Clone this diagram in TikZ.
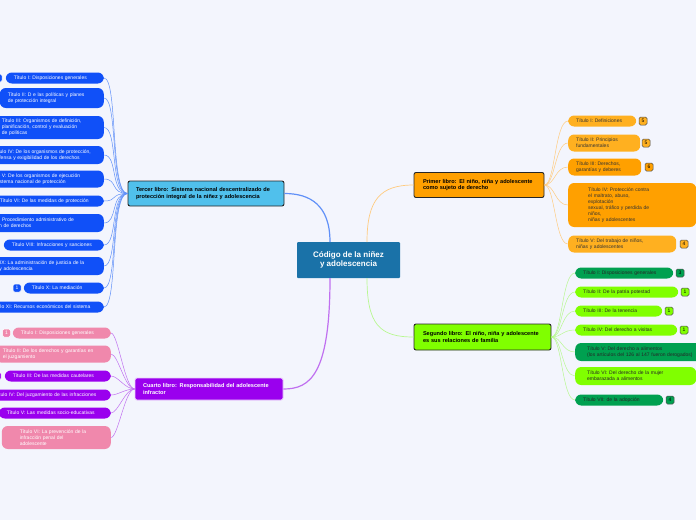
\documentclass[tikz,border=0pt]{standalone}
\usepackage{fontspec}
\setmainfont{Liberation Sans}
\definecolor{bg}{HTML}{F3F5FD}
\definecolor{cen}{HTML}{1A72A8}
\definecolor{org}{HTML}{FFA000}
\definecolor{orgk}{HTML}{FFB020}
\definecolor{orgl}{HTML}{FFCB80}
\definecolor{grn}{HTML}{80FF00}
\definecolor{grnl}{HTML}{B8F890}
\definecolor{dgrn}{HTML}{00A050}
\definecolor{blu}{HTML}{50C0EC}
\definecolor{dblu}{HTML}{1050F8}
\definecolor{lblu}{HTML}{6090F8}
\definecolor{pur}{HTML}{9A00EE}
\definecolor{lpur}{HTML}{C070F0}
\definecolor{pnk}{HTML}{F088AC}
\tikzset{
 x=1pt,y=-1pt,
 main/.style={draw=black!85,line width=0.9pt,rounded corners=2pt,inner sep=0pt,align=left,font=\fontsize{5.6}{6.8}\selectfont\bfseries},
 kid/.style={rounded corners=6pt,inner sep=0pt,align=left,font=\fontsize{5}{5.9}\selectfont},
 badge/.style={draw=black!70,line width=0.5pt,rounded corners=1.5pt,minimum width=8pt,minimum height=8pt,inner sep=0pt,font=\fontsize{5}{6}\selectfont},
 con/.style={line width=0.7pt},
}
\newcommand\kid[8]{% name, color, textcolor, x, y, anchor, width, height, text
 \node[kid,fill=#2,text=#3,anchor=#6,minimum width=#7pt,minimum height=#8pt,text width=#7pt-16pt] (#1) at (#4,#5)}
\begin{document}
\begin{tikzpicture}
\useasboundingbox (0,0) rectangle (696,520);
\fill[bg] (0,0) rectangle (696,520);
\begin{scope}
\clip (0,0) rectangle (696,520);
% central and main
\node[fill=cen,rounded corners=1pt,minimum width=103pt,minimum height=36pt,align=center,text=white,font=\fontsize{8}{9.5}\selectfont\bfseries] (c) at (348.5,260) {Código de la niñez\\y adolescencia};
\node[main,fill=org,minimum width=130pt,minimum height=25pt,text width=112pt] (p1) at (479,185) {Primer libro: El niño, niña y adolescente como sujeto de derecho};
\node[main,fill=grn,minimum width=137pt,minimum height=26pt,text width=119pt] (p2) at (482.5,337) {Segundo libro: El niño, niña y adolescente es sus relaciones de familia};
\node[main,fill=blu,minimum width=156pt,minimum height=25pt,text width=140pt] (p3) at (206,193.5) {Tercer libro: Sistema nacional descentralizado de protección integral de la niñez y adolescencia};
\node[main,fill=pur,text=white,draw=white!80!pur,minimum width=148pt,minimum height=22pt,text width=132pt] (p4) at (209,389) {Cuarto libro: Responsabilidad del adolescente infractor};
\draw[con,orgl] (367,242) .. controls (367,200) and (380,185) .. (p1.west);
\draw[con,lblu,line width=1.2pt] (330,242) .. controls (330,205) and (310,193.5) .. (p3.east);
\draw[con,grnl] (367,278) .. controls (367,325) and (380,337) .. (p2.west);
\draw[con,lpur,line width=1.2pt] (330,278) .. controls (330,375) and (310,389) .. (p4.east);
% Tercer children
\kid{t1}{dblu}{white}{104}{78}{east}{98}{11}{\centering Título I: Disposiciones generales};
\kid{t2}{dblu}{white}{104}{98}{east}{104}{20}{Título II: D e las políticas y planes\\de protección integral};
\kid{t3}{dblu}{white}{104}{127.5}{east}{110}{23}{Título III: Organismos de definición,\\planificación, control y evaluación\\de políticas};
\kid{t4}{dblu}{white}{104}{155}{east}{118}{18}{Título IV: De los organismos de protección,\\defensa y exigibilidad de los derechos};
\kid{t5}{dblu}{white}{104}{179}{east}{124}{17}{Título V: De los organismos de ejecución\\del sistema nacional de protección};
\kid{t6}{dblu}{white}{104}{201}{east}{112}{11}{\centering Título VI: De las medidas de protección};
\kid{t7}{dblu}{white}{104}{223}{east}{133}{18}{Título VII: Procedimiento administrativo de\\protección de derechos};
\kid{t8}{dblu}{white}{104}{245}{east}{100}{11}{\centering Título VIII: Infracciones y sanciones};
\kid{t9}{dblu}{white}{104}{266}{east}{126}{18}{Título IX: La administración de justicia de la\\niñez y adolescencia};
\kid{t10}{dblu}{white}{104}{288}{east}{80}{11}{\centering Título X: La mediación};
\kid{t11}{dblu}{white}{104}{307}{east}{120}{11}{\centering Título XI: Recursos económicos del sistema};
\node[badge,fill=dblu,text=white,draw=white] at (17,288) {1};
\node[badge,fill=dblu,text=white,draw=white] at (-2,78) {1};
\foreach \i in {1,...,11} \draw[con,lblu,line width=0.5pt] (p3.west) .. controls (110,193.5) and (118,0|-t\i.east) .. (t\i.east);
% Cuarto children
\kid{q1}{pnk}{white}{111}{333}{east}{98}{11}{\centering Título I: Disposiciones generales};
\kid{q2}{pnk}{white}{111}{354}{east}{116}{17}{Título II: De los derechos y garantías en\\el juzgamiento};
\kid{q3}{pur}{white}{111}{376}{east}{106}{11}{\centering Título III: De las medidas cautelares};
\kid{q4}{pur}{white}{111}{395}{east}{124}{11}{\centering Título IV: Del juzgamiento de las infracciones};
\kid{q5}{pur}{white}{111}{413}{east}{112}{11}{\centering Título V: Las medidas socio-educativas};
\kid{q6}{pnk}{white}{111}{437.5}{east}{109}{23}{\hspace*{10pt}Título VI: La prevención de la\\\hspace*{10pt}infracción penal del\\\hspace*{10pt}adolescente};
\node[badge,fill=pnk,text=white,draw=white] at (6.5,333) {1};
\node[badge,fill=pur,text=white,draw=white] at (-3,376) {1};
\foreach \i in {1,...,6} \draw[con,lpur,line width=0.5pt] (p4.west) .. controls (125,389) and (118,0|-q\i.east) .. (q\i.east);
% Primer children
\kid{a1}{orgk}{black!80}{568}{121}{west}{68}{11}{\centering Título I: Definiciones};
\kid{a2}{orgk}{black!80}{568}{143}{west}{72}{17}{Título II: Principios\\fundamentales};
\kid{a3}{org}{black!80}{568}{167}{west}{73}{17}{Título III: Derechos,\\garantías y deberes};
\kid{a4}{org}{black!80}{568}{205}{west}{128}{44}{\hspace*{12pt}Título IV: Protección contra\\\hspace*{12pt}el maltrato, abuso,\\\hspace*{12pt}explotación\\\hspace*{12pt}sexual, tráfico y perdida de\\\hspace*{12pt}niños,\\\hspace*{12pt}niñas y adolescentes};
\kid{a5}{orgk}{black!80}{568}{244}{west}{108}{17}{Título V: Del trabajo de niños,\\niñas y adolescentes};
\node[badge,fill=orgk] at (643,121) {5};
\node[badge,fill=orgk] at (646,143) {5};
\node[badge,fill=org] at (649,167) {6};
\node[badge,fill=orgk] at (684,244) {4};
\foreach \i in {1,...,5} \draw[con,orgl,line width=0.5pt] (p1.east) .. controls (555,185) and (555,0|-a\i.west) .. (a\i.west);
% Segundo children
\kid{b1}{dgrn}{black!85}{575}{273}{west}{98}{11}{\centering Título I: Disposiciones generales};
\kid{b2}{grn}{black!85}{575}{292}{west}{103}{11}{\centering Título II: De la patria potestad};
\kid{b3}{grn}{black!85}{575}{311}{west}{87}{11}{\centering Título III: De la tenencia};
\kid{b4}{grn}{black!85}{575}{330}{west}{102}{11}{\centering Título IV: Del derecho a visitas};
\kid{b5}{dgrn}{black!85}{575}{352}{west}{170}{18}{\hspace*{4pt}Título V: Del derecho a alimentos\\\hspace*{4pt}(los artículos del 126 al 147 fueron derogados)};
\kid{b6}{grn}{black!85}{575}{376}{west}{121}{18}{\hspace*{4pt}Título VI: Del derecho de la mujer\\\hspace*{4pt}embarazada a alimentos};
\kid{b7}{dgrn}{black!85}{575}{400}{west}{88}{11}{\centering Título VII: de la adopción};
\node[badge,fill=dgrn] at (680,273) {3};
\node[badge,fill=grn] at (685,292) {1};
\node[badge,fill=grn] at (669,311) {1};
\node[badge,fill=grn] at (684,330) {1};
\node[badge,fill=dgrn] at (670,400) {4};
\foreach \i in {1,...,7} \draw[con,grnl,line width=0.5pt] (p2.east) .. controls (562,337) and (562,0|-b\i.west) .. (b\i.west);
\end{scope}
\end{tikzpicture}
\end{document}
